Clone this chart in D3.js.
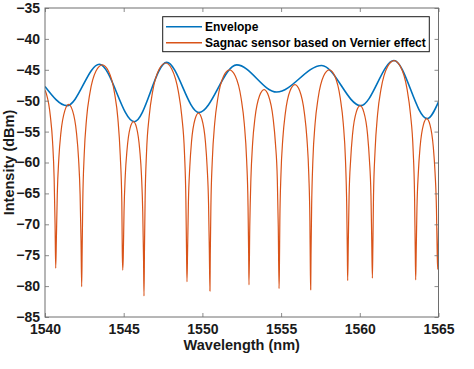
<!DOCTYPE html>
<html>
<head>
<meta charset="utf-8">
<script src="https://cdn.jsdelivr.net/npm/d3@7"></script>
<style>
  html, body { margin: 0; padding: 0; background: #fff; }
  svg { display: block; }
</style>
</head>
<body>
<div id="chart"></div>
<script>
// ---------- data ----------
const xTicks = [1540, 1545, 1550, 1555, 1560, 1565];
const yTicks = [-85, -80, -75, -70, -65, -60, -55, -50, -45, -40, -35];

const seriesNames = ["Envelope", "Sagnac sensor based on Vernier effect"];

// Envelope (blue): extrema
const envWl = [1540.00, 1541.40, 1543.45, 1545.67, 1547.73, 1549.78, 1552.18, 1554.72, 1557.58, 1560.06, 1562.17, 1564.29, 1565.00];
const envDb = [-47.7, -50.8, -44.1, -53.4, -43.8, -51.9, -44.2, -48.6, -44.3, -50.8, -43.5, -52.9, -50.2];

// Sagnac sensor spectrum (orange): points
const sagWl = [
  1540.00, 1540.09, 1540.34, 1540.48, 1540.58, 1540.64, 1540.68,
  1540.72, 1540.78, 1540.88, 1541.01, 1541.26, 1541.50, 1541.75, 1542.00, 1542.13, 1542.23, 1542.29, 1542.33,
  1542.36, 1542.40, 1542.49, 1542.64, 1542.85, 1543.24, 1543.64, 1544.03, 1544.42, 1544.63, 1544.78, 1544.88, 1544.91, 1544.94,
  1544.97, 1545.02, 1545.10, 1545.21, 1545.41, 1545.62, 1545.82, 1546.02, 1546.13, 1546.21, 1546.26, 1546.29,
  1546.32, 1546.36, 1546.45, 1546.62, 1546.84, 1547.25, 1547.66, 1548.06, 1548.47, 1548.69, 1548.86, 1548.95, 1548.99, 1549.02,
  1549.06, 1549.11, 1549.20, 1549.31, 1549.53, 1549.75, 1549.97, 1550.19, 1550.30, 1550.39, 1550.44, 1550.48,
  1550.50, 1550.54, 1550.63, 1550.78, 1550.98, 1551.35, 1551.72, 1552.09, 1552.46, 1552.66, 1552.81, 1552.90, 1552.94, 1552.96,
  1553.01, 1553.08, 1553.19, 1553.34, 1553.63, 1553.92, 1554.20, 1554.49, 1554.64, 1554.76, 1554.82, 1554.87,
  1554.89, 1554.92, 1554.99, 1555.11, 1555.27, 1555.57, 1555.88, 1556.18, 1556.48, 1556.64, 1556.76, 1556.83, 1556.86, 1556.88,
  1556.90, 1556.94, 1557.02, 1557.16, 1557.35, 1557.70, 1558.06, 1558.41, 1558.76, 1558.95, 1559.09, 1559.17, 1559.21, 1559.23,
  1559.27, 1559.32, 1559.42, 1559.54, 1559.78, 1560.02, 1560.25, 1560.49, 1560.61, 1560.71, 1560.76, 1560.80,
  1560.83, 1560.87, 1560.97, 1561.13, 1561.35, 1561.76, 1562.18, 1562.59, 1563.00, 1563.22, 1563.39, 1563.48, 1563.52, 1563.55,
  1563.58, 1563.63, 1563.72, 1563.83, 1564.04, 1564.25, 1564.46, 1564.67, 1564.78, 1564.87, 1564.92, 1564.95,
  1565.00
];
const sagDb = [
  -48.3, -48.9, -52.5, -56.6, -62.5, -70.0, -77.1,
  -72.7, -65.2, -59.3, -55.2, -51.6, -50.6, -51.6, -55.2, -59.3, -65.2, -72.7, -80.1,
  -74.3, -66.3, -58.8, -52.9, -48.8, -45.2, -44.2, -45.2, -48.8, -52.9, -58.8, -66.3, -74.3, -77.4,
  -75.5, -68.0, -62.1, -58.0, -54.4, -53.4, -54.4, -58.0, -62.1, -68.0, -75.5, -81.6,
  -73.9, -66.0, -58.4, -52.5, -48.5, -44.9, -43.9, -44.9, -48.5, -52.5, -58.4, -66.0, -73.9, -79.3,
  -74.1, -66.6, -60.7, -56.6, -53.0, -52.0, -53.0, -56.6, -60.7, -66.6, -74.1, -80.8,
  -75.1, -67.1, -59.6, -53.7, -49.6, -46.0, -45.0, -46.0, -49.6, -53.7, -59.6, -67.1, -75.1, -79.8,
  -70.3, -62.8, -56.9, -52.8, -49.2, -48.2, -49.2, -52.8, -56.9, -62.8, -70.3, -80.4,
  -77.5, -69.5, -62.0, -56.1, -52.0, -48.4, -47.4, -48.4, -52.0, -56.1, -62.0, -69.5, -77.5, -80.6,
  -75.1, -67.1, -59.6, -53.7, -49.6, -46.0, -45.0, -46.0, -49.6, -53.7, -59.6, -67.1, -75.1, -79.1,
  -72.9, -65.4, -59.5, -55.4, -51.8, -50.8, -51.8, -55.4, -59.5, -65.4, -72.9, -78.7,
  -73.6, -65.6, -58.1, -52.2, -48.1, -44.5, -43.5, -44.5, -48.1, -52.2, -58.1, -65.6, -73.6, -79.0,
  -75.0, -67.5, -61.6, -57.5, -53.9, -52.9, -53.9, -57.5, -61.6, -67.5, -75.0, -77.3,
  -70.5
];

// ---------- layout ----------
const W = 474, H = 369;
const margin = { left: 45, right: W - 438.5, top: 8, bottom: H - 317 };
const innerW = W - margin.left - margin.right;
const innerH = H - margin.top - margin.bottom;

const colors = ["#0072BD", "#D95319"];
const font = "'Liberation Sans', Arial, sans-serif";
const axisGray = "#6e6e6e";

const svg = d3.select("#chart").append("svg")
  .attr("width", W).attr("height", H)
  .style("font-family", font);

const g = svg.append("g").attr("transform", `translate(${margin.left},${margin.top})`);

const x = d3.scaleLinear().domain([1540, 1565]).range([0, innerW]);
const y = d3.scaleLinear().domain([-85, -35]).range([innerH, 0]);

svg.append("defs").append("clipPath").attr("id", "clip")
  .append("rect").attr("width", innerW).attr("height", innerH);

const envData = envWl.map((d, i) => [d, envDb[i]]);
const sagData = sagWl.map((d, i) => [d, sagDb[i]]);

const lineGen = d3.line().x(d => x(d[0])).y(d => y(d[1])).curve(d3.curveMonotoneX);

const plot = g.append("g").attr("clip-path", "url(#clip)");
plot.append("path").datum(envData)
  .attr("fill", "none").attr("stroke", colors[0]).attr("stroke-width", 1.6)
  .attr("d", lineGen);
plot.append("path").datum(sagData)
  .attr("fill", "none").attr("stroke", colors[1]).attr("stroke-width", 1.2)
  .attr("stroke-linejoin", "round")
  .attr("d", lineGen);

function styleAxis(sel, showText) {
  sel.select(".domain").remove();
  sel.selectAll(".tick line").attr("stroke", axisGray).attr("stroke-width", 0.8);
  sel.selectAll(".tick text")
    .attr("fill", "#1a1a1a")
    .style("font-size", "14px")
    .style("font-weight", "bold")
    .style("font-family", font);
  if (!showText) sel.selectAll(".tick text").remove();
}

g.append("g").attr("transform", `translate(0,${innerH})`)
  .call(d3.axisBottom(x).tickValues(xTicks).tickSizeInner(-4).tickSizeOuter(0).tickPadding(7.5).tickFormat(d3.format("d")))
  .call(s => styleAxis(s, true));
g.append("g")
  .call(d3.axisTop(x).tickValues(xTicks).tickSizeInner(-4).tickSizeOuter(0))
  .call(s => styleAxis(s, false));
g.append("g")
  .call(d3.axisLeft(y).tickValues(yTicks).tickSizeInner(-4).tickSizeOuter(0).tickPadding(5).tickFormat(d3.format("d")))
  .call(s => styleAxis(s, true));
g.append("g").attr("transform", `translate(${innerW},0)`)
  .call(d3.axisRight(y).tickValues(yTicks).tickSizeInner(-4).tickSizeOuter(0))
  .call(s => styleAxis(s, false));

g.append("rect").attr("width", innerW).attr("height", innerH)
  .attr("fill", "none").attr("stroke", axisGray).attr("stroke-width", 1);

svg.append("text")
  .attr("x", margin.left + innerW / 2).attr("y", 349.5)
  .attr("text-anchor", "middle")
  .style("font-size", "14.5px").style("font-weight", "bold").attr("fill", "#1a1a1a")
  .text("Wavelength (nm)");
svg.append("text")
  .attr("transform", `translate(14,${margin.top + innerH / 2}) rotate(-90)`)
  .attr("text-anchor", "middle")
  .style("font-size", "14.5px").style("font-weight", "bold").attr("fill", "#1a1a1a")
  .text("Intensity (dBm)");

const lg = svg.append("g");
lg.append("rect").attr("x", 162.7).attr("y", 16.7).attr("width", 266.6).attr("height", 35)
  .attr("fill", "#fff").attr("stroke", "#1a1a1a").attr("stroke-width", 1);
seriesNames.forEach((name, i) => {
  const yy = 26.7 + i * 16;
  lg.append("line").attr("x1", 166).attr("x2", 202).attr("y1", yy).attr("y2", yy)
    .attr("stroke", colors[i]).attr("stroke-width", 1.6);
  lg.append("text").attr("x", 205).attr("y", yy).attr("dy", "0.35em")
    .style("font-size", "12px").style("font-weight", "bold").attr("fill", "#000")
    .text(name);
});
</script>
</body>
</html>
